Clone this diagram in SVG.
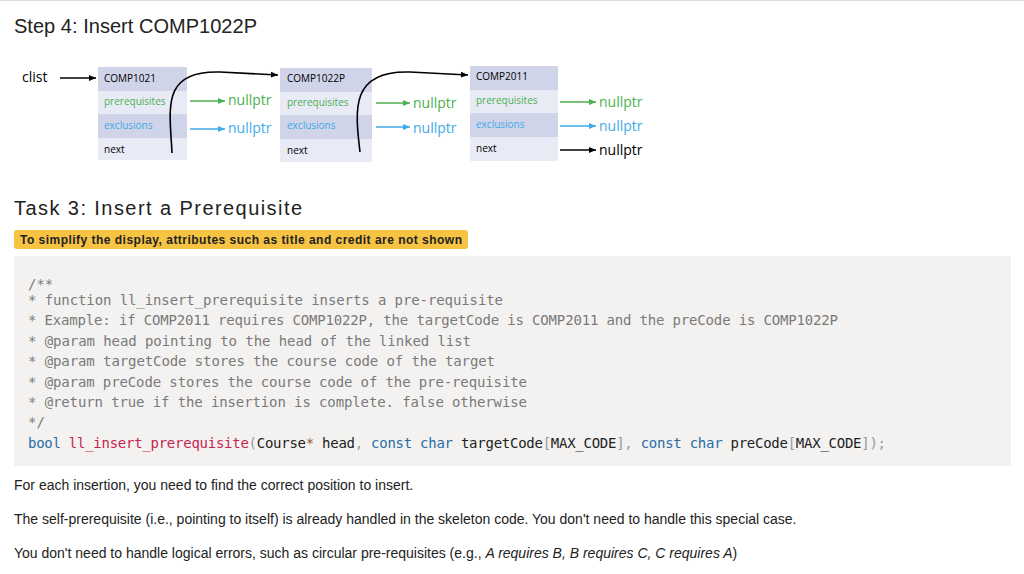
<svg xmlns="http://www.w3.org/2000/svg" width="1024" height="574" viewBox="0 0 1024 574">
<style>
.h{font-family:"Liberation Sans",Arial,sans-serif;fill:#222}
.n{font-family:"Open Sans","Liberation Sans",sans-serif;font-size:10px}
.d{fill:#cfd4e8}.l{fill:#e8ebf5}
.g{fill:#4caf50}.b{fill:#3fa9e8}
.np{font-family:"Open Sans","Liberation Sans",sans-serif;font-size:14px}
.c{font-family:"DejaVu Sans Mono","Liberation Mono",monospace;font-size:14px;fill:#7a7a7a}
.p{font-family:"Liberation Sans",Arial,sans-serif;font-size:14px;fill:#222}
</style>
<defs>
<marker id="ak" markerWidth="8" markerHeight="8" refX="7" refY="4" orient="auto" markerUnits="userSpaceOnUse"><path d="M0,1 L7,4 L0,7z" fill="#000"/></marker>
<marker id="ag" markerWidth="8" markerHeight="8" refX="7" refY="4" orient="auto" markerUnits="userSpaceOnUse"><path d="M0,1 L7,4 L0,7z" fill="#4caf50"/></marker>
<marker id="ab" markerWidth="8" markerHeight="8" refX="7" refY="4" orient="auto" markerUnits="userSpaceOnUse"><path d="M0,1 L7,4 L0,7z" fill="#3fa9e8"/></marker>
</defs>
<rect width="1024" height="574" fill="#fff"/>
<line x1="0" y1="0.5" x2="1024" y2="0.5" stroke="#ddd"/>
<text class="h" x="14" y="33" font-size="20" textLength="243">Step 4: Insert COMP1022P</text>
<text x="22" y="82" font-family="Open Sans,Liberation Sans,sans-serif" font-size="14">clist</text>
<g id="node1">
<rect class="d" x="98" y="67" width="89" height="24"/><rect class="l" x="98" y="91" width="89" height="23"/><rect class="d" x="98" y="114" width="89" height="24"/><rect class="l" x="98" y="138" width="89" height="22"/>
<text class="n" x="104" y="82">COMP1021</text><text class="n g" x="104" y="105">prerequisites</text><text class="n b" x="104" y="129">exclusions</text><text class="n" x="104" y="153">next</text>
</g>
<g id="node2">
<rect class="d" x="280" y="68" width="92" height="24"/><rect class="l" x="280" y="92" width="92" height="23"/><rect class="d" x="280" y="115" width="92" height="24"/><rect class="l" x="280" y="139" width="92" height="23"/>
<text class="n" x="287" y="82">COMP1022P</text><text class="n g" x="287" y="106">prerequisites</text><text class="n b" x="287" y="129">exclusions</text><text class="n" x="287" y="154">next</text>
</g>
<g id="node3">
<rect class="d" x="470" y="66" width="88" height="24"/><rect class="l" x="470" y="90" width="88" height="23"/><rect class="d" x="470" y="113" width="88" height="24"/><rect class="l" x="470" y="137" width="88" height="24"/>
<text class="n" x="476" y="80">COMP2011</text><text class="n g" x="476" y="104">prerequisites</text><text class="n b" x="476" y="128">exclusions</text><text class="n" x="476" y="152">next</text>
</g>
<g id="nulls">
<text class="np g" x="228" y="105">nullptr</text><text class="np b" x="228" y="133">nullptr</text>
<text class="np g" x="413" y="108">nullptr</text><text class="np b" x="413" y="133">nullptr</text>
<text class="np g" x="599" y="107">nullptr</text><text class="np b" x="599" y="131">nullptr</text>
<text class="np" x="599" y="155">nullptr</text>
</g>
<g id="connectors" fill="none" stroke-width="1.6">
<line x1="60" y1="78" x2="96" y2="78" stroke="#000" marker-end="url(#ak)"/>
<path d="M172,153 C170,110 160,70 220,72 L278,75" stroke="#000" marker-end="url(#ak)"/>
<path d="M360,152 C355,110 350,70 410,72 L468,75" stroke="#000" marker-end="url(#ak)"/>
<line x1="190" y1="101" x2="225" y2="101" stroke="#4caf50" marker-end="url(#ag)"/>
<line x1="190" y1="129" x2="225" y2="129" stroke="#3fa9e8" marker-end="url(#ab)"/>
<line x1="376" y1="103" x2="410" y2="103" stroke="#4caf50" marker-end="url(#ag)"/>
<line x1="376" y1="127" x2="410" y2="127" stroke="#3fa9e8" marker-end="url(#ab)"/>
<line x1="560" y1="102" x2="596" y2="102" stroke="#4caf50" marker-end="url(#ag)"/>
<line x1="560" y1="126" x2="596" y2="126" stroke="#3fa9e8" marker-end="url(#ab)"/>
<line x1="560" y1="150" x2="596" y2="150" stroke="#000" marker-end="url(#ak)"/>
</g>
<text class="h" x="14" y="215" font-size="20" textLength="288">Task 3: Insert a Prerequisite</text>
<rect x="14" y="230" width="454" height="19" rx="3" fill="#f6c343"/>
<text x="20" y="244" font-family="Liberation Sans,Arial,sans-serif" font-size="12" font-weight="bold" fill="#222" textLength="442">To simplify the display, attributes such as title and credit are not shown</text>
<rect x="14" y="256" width="997" height="210" fill="#f3f2f1"/>
<g class="c" xml:space="preserve">
<text x="28" y="289">/**</text>
<text x="28" y="305" textLength="475"> * function ll_insert_prerequisite inserts a pre-requisite</text>
<text x="28" y="325" textLength="810"> * Example: if COMP2011 requires COMP1022P, the targetCode is COMP2011 and the preCode is COMP1022P</text>
<text x="28" y="346" textLength="443"> * @param head pointing to the head of the linked list</text>
<text x="28" y="366" textLength="467"> * @param targetCode stores the course code of the target</text>
<text x="28" y="387" textLength="499"> * @param preCode stores the course code of the pre-requisite</text>
<text x="28" y="407" textLength="499"> * @return true if the insertion is complete. false otherwise</text>
<text x="28" y="427">*/</text>
<text x="28" y="448" textLength="858"><tspan fill="#2b6ca3">bool</tspan> <tspan fill="#c7254e">ll_insert_prerequisite</tspan><tspan fill="#999">(</tspan><tspan fill="#222">Course</tspan><tspan fill="#a0522d">*</tspan><tspan fill="#222"> head</tspan><tspan fill="#999">, </tspan><tspan fill="#2b6ca3">const char</tspan><tspan fill="#222"> targetCode</tspan><tspan fill="#999">[</tspan><tspan fill="#222">MAX_CODE</tspan><tspan fill="#999">], </tspan><tspan fill="#2b6ca3">const char</tspan><tspan fill="#222"> preCode</tspan><tspan fill="#999">[</tspan><tspan fill="#222">MAX_CODE</tspan><tspan fill="#999">]);</tspan></text>
</g>
<text class="p" x="14" y="490">For each insertion, you need to find the correct position to insert.</text>
<text class="p" x="14" y="524">The self-prerequisite (i.e., pointing to itself) is already handled in the skeleton code. You don't need to handle this special case.</text>
<text class="p" x="14" y="558">You don't need to handle logical errors, such as circular pre-requisites (e.g., <tspan font-style="italic">A requires B, B requires C, C requires A</tspan>)</text>
</svg>
